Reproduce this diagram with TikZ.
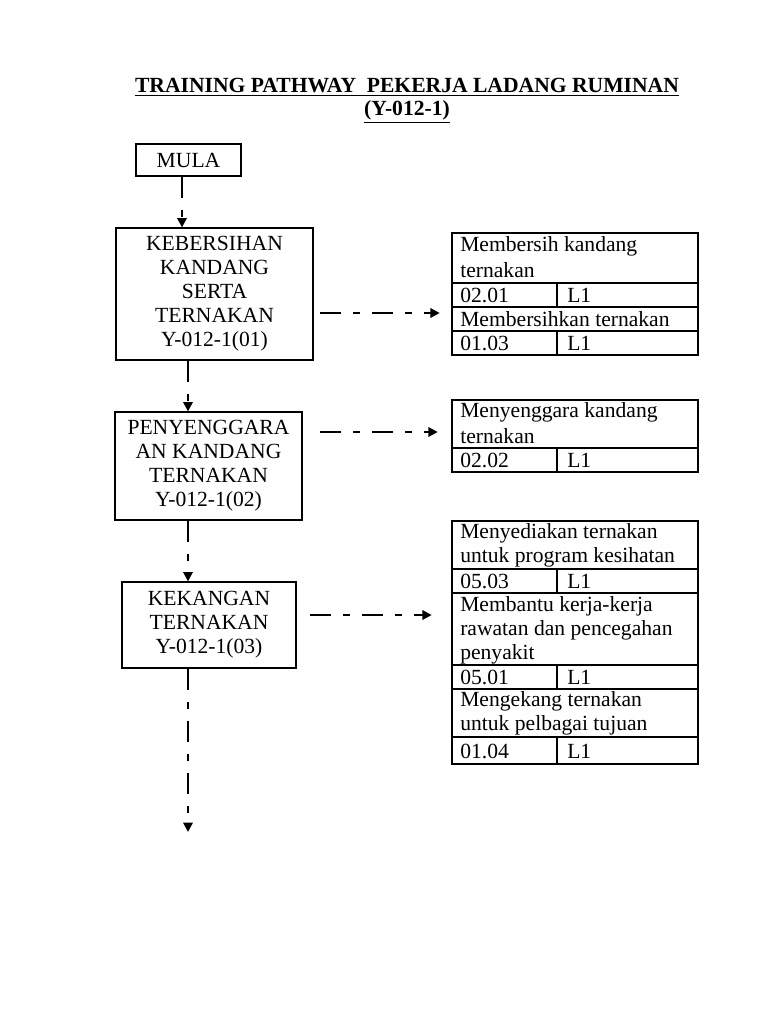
\documentclass[tikz,border=0pt]{standalone}
\usepackage{fontspec}
\setmainfont{Liberation Serif}
\usetikzlibrary{arrows.meta,calc}
\begin{document}
\begin{tikzpicture}[x=0.75pt,y=-0.75pt,
  txt/.style={font=\fontsize{16.2}{18}\selectfont},
  box/.style={draw,line width=0.9pt,align=center,inner sep=0pt,txt},
  flow/.style={line width=1.6pt,dash pattern=on 16pt off 9pt on 5pt off 9pt,-{Triangle[length=7pt,width=7pt]}},
  cell/.style={anchor=west,txt,inner sep=0pt},
  tab/.style={line width=0.8pt}]
\useasboundingbox (0,0) rectangle (768,1024);
\node[txt,font=\bfseries\fontsize{16.2}{18}\selectfont] (title) at (407,87) {\underline{TRAINING PATHWAY\ \ PEKERJA LADANG RUMINAN}};
\node[txt,font=\bfseries\fontsize{16.2}{18}\selectfont] (title2) at (407,112) {\underline{(Y-012-1)}};
% boxes
\node[box,minimum width=105*0.75pt,minimum height=32*0.75pt] (mula) at (188.5,160) {MULA};
\node[box,minimum width=197*0.75pt,minimum height=132*0.75pt] (b1) at (214.5,294) {KEBERSIHAN\\KANDANG\\SERTA\\TERNAKAN\\Y-012-1(01)};
\node[box,minimum width=187*0.75pt,minimum height=108*0.75pt] (b2) at (208.5,466) {PENYENGGARA\\AN KANDANG\\TERNAKAN\\Y-012-1(02)};
\node[box,minimum width=174*0.75pt,minimum height=86*0.75pt] (b3) at (209,625) {KEKANGAN\\TERNAKAN\\Y-012-1(03)};
% tables
\node[minimum width=246*0.75pt,minimum height=122*0.75pt,inner sep=0pt] (t1) at (575,294) {};
\node[minimum width=246*0.75pt,minimum height=72*0.75pt,inner sep=0pt] (t2) at (575,436) {};
\node[minimum width=246*0.75pt,minimum height=243*0.75pt,inner sep=0pt] (t3) at (575,642.5) {};
\draw[tab] (452,233) rectangle (698,355);
\draw[tab] (452,283)--(698,283) (452,307)--(698,307) (452,331)--(698,331) (557,283)--(557,307) (557,331)--(557,355);
\node[cell] at (460,246) {Membersih kandang};
\node[cell] at (460,270) {ternakan};
\node[cell] at (460,295) {02.01}; \node[cell] at (567,295) {L1};
\node[cell] at (460,319) {Membersihkan ternakan};
\node[cell] at (460,343) {01.03}; \node[cell] at (567,343) {L1};
\draw[tab] (452,400) rectangle (698,472);
\draw[tab] (452,448)--(698,448) (557,448)--(557,472);
\node[cell] at (460,412) {Menyenggara kandang};
\node[cell] at (460,436) {ternakan};
\node[cell] at (460,460) {02.02}; \node[cell] at (567,460) {L1};
\draw[tab] (452,521) rectangle (698,764);
\draw[tab] (452,569)--(698,569) (452,593)--(698,593) (452,665)--(698,665) (452,689)--(698,689) (452,737)--(698,737)
  (557,569)--(557,593) (557,665)--(557,689) (557,737)--(557,764);
\node[cell] at (460,533) {Menyediakan ternakan};
\node[cell] at (460,557) {untuk program kesihatan};
\node[cell] at (460,581) {05.03}; \node[cell] at (567,581) {L1};
\node[cell] at (460,606) {Membantu kerja-kerja};
\node[cell] at (460,630) {rawatan dan pencegahan};
\node[cell] at (460,654) {penyakit};
\node[cell] at (460,677) {05.01}; \node[cell] at (567,677) {L1};
\node[cell] at (460,701) {Mengekang ternakan};
\node[cell] at (460,725) {untuk pelbagai tujuan};
\node[cell] at (460,751) {01.04}; \node[cell] at (567,751) {L1};
% connectors
\coordinate (end) at (188,832);
\draw[flow] (mula.south -| 182,0) -- (b1.north -| 182,0);
\draw[flow] (b1.south -| 188,0) -- (b2.north -| 188,0);
\draw[flow] (b2.south -| 188,0) -- (b3.north -| 188,0);
\draw[flow] (b3.south -| 188,0) -- (end);
\draw[flow] (320,313) -- ($(t1.west |- 0,313)+(-12,0)$);
\draw[flow] (320,432) -- ($(t2.west |- 0,432)+(-14,0)$);
\draw[flow] (310,615) -- ($(t3.west |- 0,615)+(-20,0)$);
\end{tikzpicture}
\end{document}
